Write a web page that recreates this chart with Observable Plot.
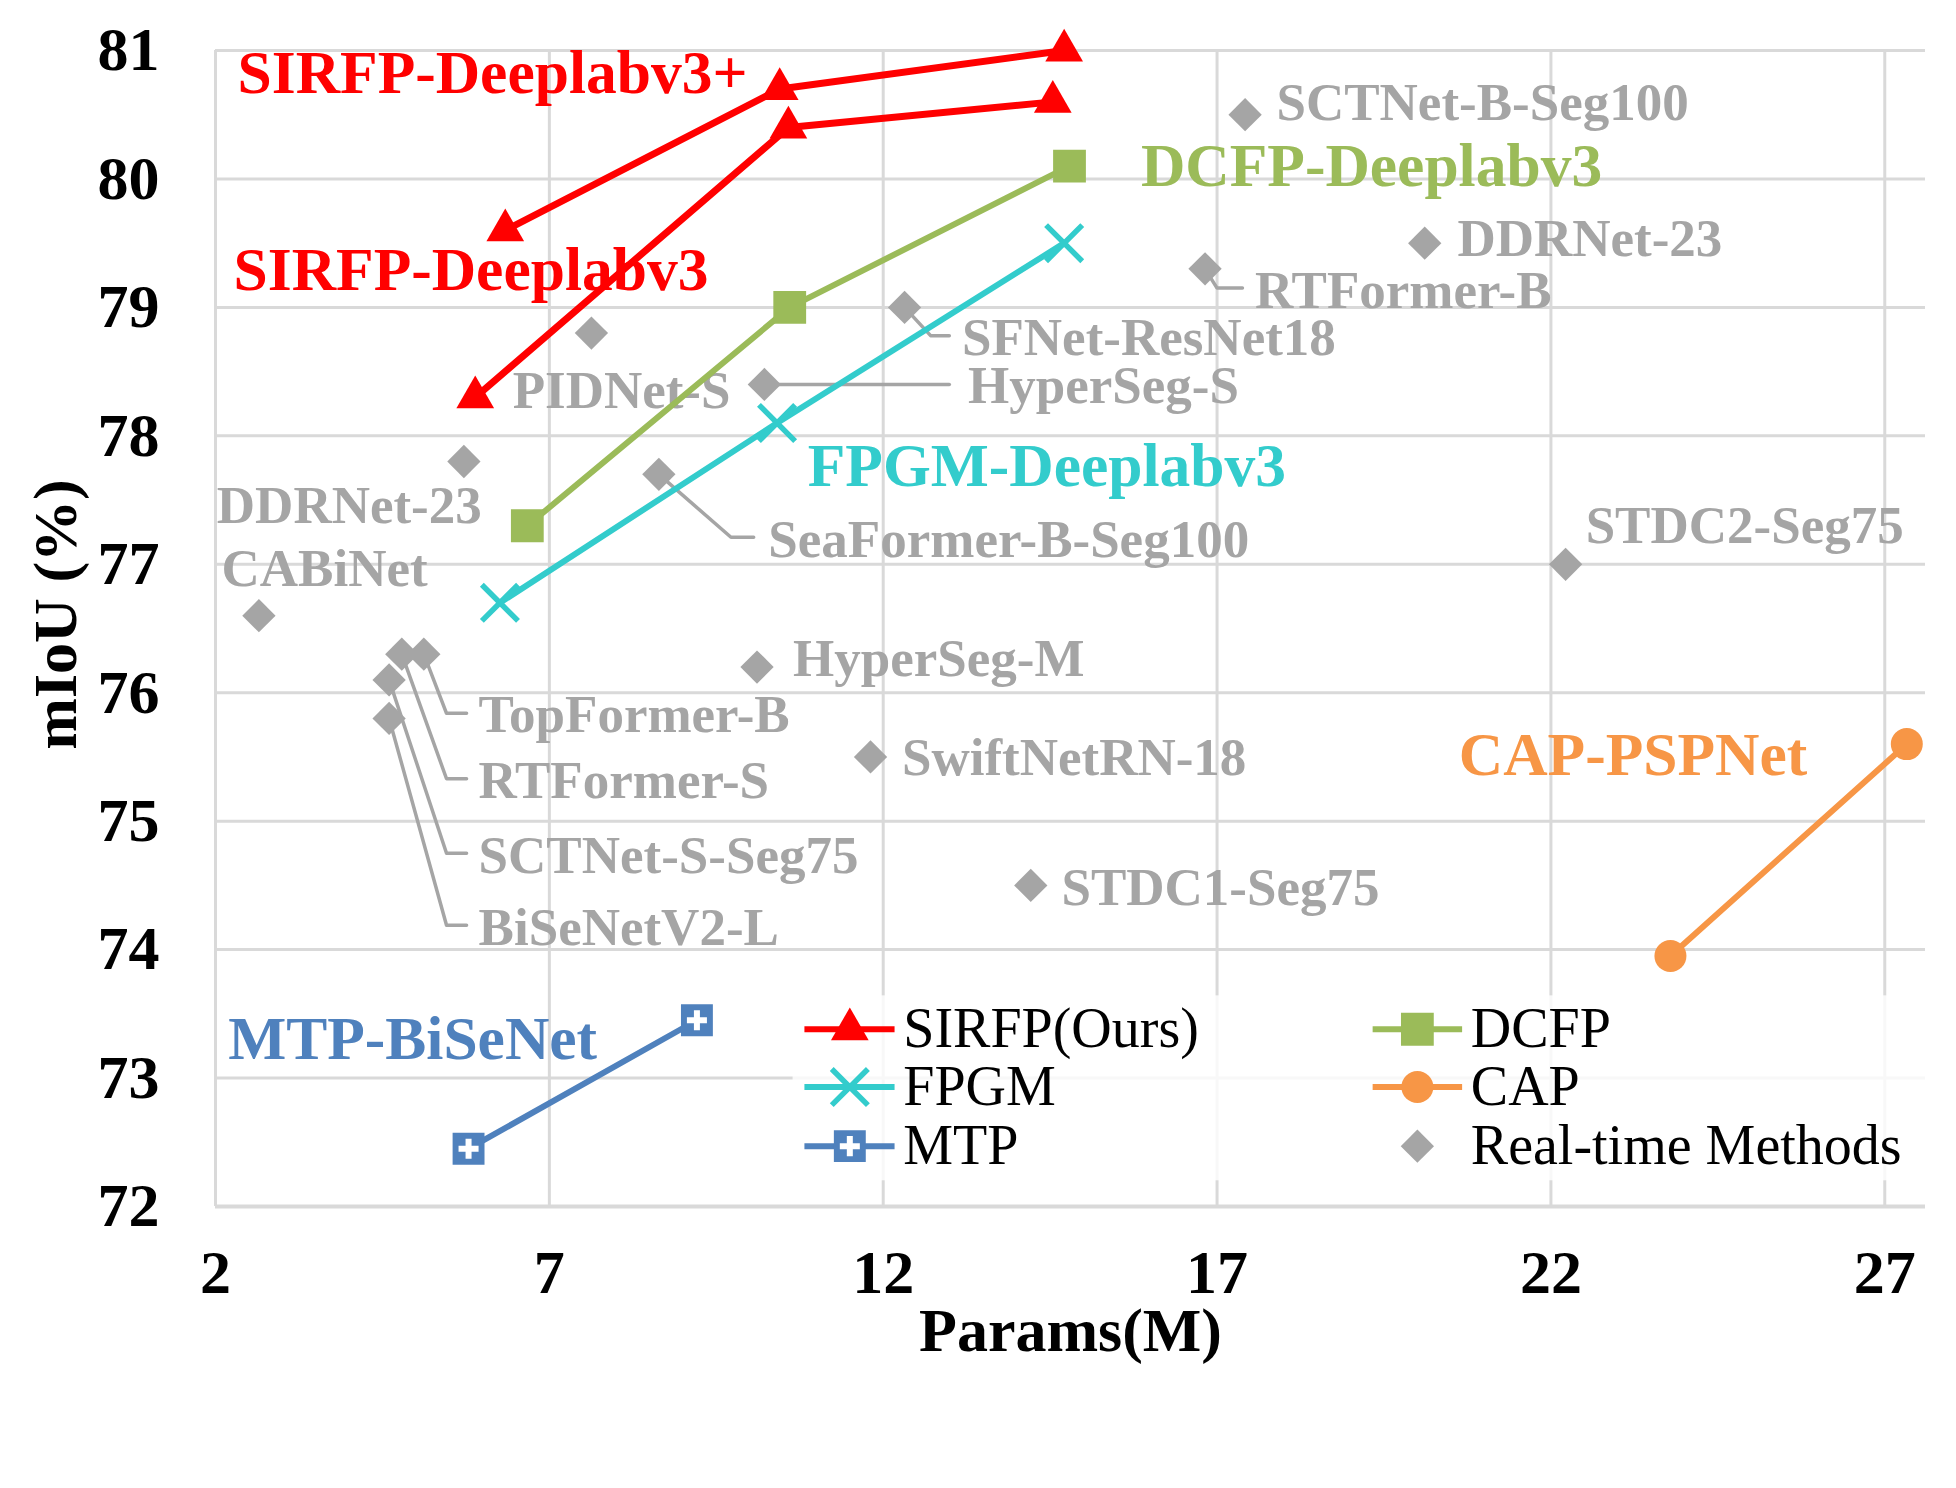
<!DOCTYPE html>
<html>
<head>
<meta charset="utf-8">
<script src="https://cdn.jsdelivr.net/npm/d3@7"></script>
<script src="https://cdn.jsdelivr.net/npm/@observablehq/plot@0.6"></script>
<style>
  html, body { margin: 0; padding: 0; background: #fff; }
  #chart svg { display: block; }
</style>
</head>
<body>
<div id="chart"></div>
<script>
// ---------- data ----------
const xTicks = [2, 7, 12, 17, 22, 27];
const yTicks = [72, 73, 74, 75, 76, 77, 78, 79, 80, 81];

const seriesNames = ["SIRFP-Deeplabv3+", "SIRFP-Deeplabv3", "DCFP-Deeplabv3", "FPGM-Deeplabv3", "MTP-BiSeNet", "CAP-PSPNet"];
const sirfpPlusParams = [6.34, 10.45, 14.71];
const sirfpPlusMiou   = [79.6, 80.7, 81.0];
const sirfpParams     = [5.89, 10.58, 14.54];
const sirfpMiou       = [78.3, 80.4, 80.6];
const dcfpParams      = [6.67, 10.6, 14.79];
const dcfpMiou        = [77.3, 79.0, 80.1];
const fpgmParams      = [6.26, 10.41, 14.71];
const fpgmMiou        = [76.7, 78.1, 79.5];
const mtpParams       = [5.79, 9.21];
const mtpMiou         = [72.45, 73.45];
const capParams       = [23.79, 27.33];
const capMiou         = [73.95, 75.6];

const rtNames  = ["SCTNet-B-Seg100", "DDRNet-23", "RTFormer-B", "SFNet-ResNet18", "HyperSeg-S", "PIDNet-S", "DDRNet-23", "SeaFormer-B-Seg100", "CABiNet", "STDC2-Seg75", "HyperSeg-M", "TopFormer-B", "RTFormer-S", "SCTNet-S-Seg75", "BiSeNetV2-L", "SwiftNetRN-18", "STDC1-Seg75"];
const rtParams = [17.42, 20.11, 16.82, 12.32, 10.22, 7.63, 5.72, 8.64, 2.65, 22.22, 10.11, 5.12, 4.79, 4.6, 4.6, 11.81, 14.21];
const rtMiou   = [80.5, 79.5, 79.3, 79.0, 78.4, 78.8, 77.8, 77.7, 76.6, 77.0, 76.2, 76.3, 76.3, 76.1, 75.8, 75.5, 74.5];

const legendNames = ["SIRFP(Ours)", "FPGM", "MTP", "DCFP", "CAP", "Real-time Methods"];

// ---------- layout (annotation placement in data units) ----------
const rtLabelPos = [
  [17.89, 80.59], [20.6, 79.53], [17.57, 79.13], [13.18, 78.76], [13.27, 78.39],
  [6.45, 78.35], [2.02, 77.45], [10.28, 77.19], [2.09, 76.96], [22.52, 77.3],
  [10.65, 76.26], [5.94, 75.83], [5.94, 75.31], [5.94, 74.73], [5.94, 74.17],
  [12.28, 75.49], [14.67, 74.48]
];
const rtLeaders = {
  2:  [[17.0, 79.15], [17.38, 79.15]],
  3:  [[12.71, 78.78], [12.99, 78.78]],
  4:  [[12.99, 78.4]],
  7:  [[9.72, 77.21], [10.06, 77.21]],
  11: [[5.46, 75.84], [5.76, 75.84]],
  12: [[5.46, 75.33], [5.76, 75.33]],
  13: [[5.46, 74.75], [5.76, 74.75]],
  14: [[5.46, 74.19], [5.76, 74.19]]
};
const seriesLabelPos = [[2.33, 80.82], [2.27, 79.29], [15.86, 80.1], [10.87, 77.76], [2.19, 73.3], [20.62, 75.51]];
const legendRows = [73.38, 72.93, 72.47];
const legendCols = [{l1: 10.82, l2: 12.17, s: 11.5, t: 12.3}, {l1: 19.33, l2: 20.67, s: 20.0, t: 20.8}];
const legendBox = {x1: 10.65, x2: 27.61, y1: 72.2, y2: 73.64};

// ---------- styles ----------
const RED = "#FF0000", GREEN = "#9BBB59", CYAN = "#33CCCC", BLUE = "#4F81BD", ORANGE = "#F79646", GRAY = "#A5A5A5", GRID = "#D9D9D9";
const seriesColors = [RED, RED, GREEN, CYAN, BLUE, ORANGE];

// ---------- derived tables ----------
const zip = (xs, ys) => xs.map((x, i) => ({x, y: ys[i]}));
const sirfpPlus = zip(sirfpPlusParams, sirfpPlusMiou);
const sirfp = zip(sirfpParams, sirfpMiou);
const dcfp = zip(dcfpParams, dcfpMiou);
const fpgm = zip(fpgmParams, fpgmMiou);
const mtp = zip(mtpParams, mtpMiou);
const cap = zip(capParams, capMiou);
const rt = rtNames.map((n, i) => ({name: n, x: rtParams[i], y: rtMiou[i], lx: rtLabelPos[i][0], ly: rtLabelPos[i][1]}));
const leaderPts = [];
for (const k of Object.keys(rtLeaders)) {
  const i = +k;
  leaderPts.push({g: i, x: rtParams[i], y: rtMiou[i]});
  for (const [x, y] of rtLeaders[k]) leaderPts.push({g: i, x, y});
}
const seriesLabels = seriesNames.map((n, i) => ({name: n, x: seriesLabelPos[i][0], y: seriesLabelPos[i][1], c: seriesColors[i]}));

const legendItems = legendNames.map((n, i) => {
  const col = legendCols[Math.floor(i / 3)];
  return {name: n, y: legendRows[i % 3], ...col, idx: i};
});
const legendColors = [RED, CYAN, BLUE, GREEN, ORANGE, GRAY];
const legLines = legendItems.filter(d => d.idx !== 5).map(d => ({...d, c: legendColors[d.idx]}));

const TRI = 14, SQ = 18.5, MTPR = 18, PLUSR = 6.5, CIR = 16, XR = 16.5, DIA = 15;

const chart = Plot.plot({
  width: 1956,
  height: 1488,
  marginLeft: 215,
  marginRight: 31,
  marginTop: 50,
  marginBottom: 282,
  x: {domain: [2, 27.61]},
  y: {domain: [72, 81]},
  style: {fontFamily: "'Liberation Serif', 'Times New Roman', serif", background: "#fff", color: "#000"},
  marks: [
    Plot.gridY({ticks: yTicks, stroke: GRID, strokeOpacity: 1, strokeWidth: 3}),
    Plot.gridX({ticks: xTicks, stroke: GRID, strokeOpacity: 1, strokeWidth: 3}),
    Plot.ruleY([72], {stroke: GRID, strokeWidth: 4}),
    Plot.axisY({ticks: yTicks, tickSize: 0, tickPadding: 56, fontSize: 62, fontWeight: "bold", label: null}),
    Plot.axisX({ticks: xTicks, tickSize: 0, tickPadding: 42, fontSize: 62, fontWeight: "bold", label: null}),
    Plot.text(["mIoU (%)"], {frameAnchor: "left", rotate: -90, dx: -159, dy: -14, fontSize: 62, fontWeight: "bold", textAnchor: "middle", lineAnchor: "middle"}),
    Plot.text(["Params(M)"], {frameAnchor: "bottom", dy: 125, fontSize: 62, fontWeight: "bold", textAnchor: "middle", lineAnchor: "middle"}),

    // legend background
    Plot.rect([legendBox], {x1: "x1", x2: "x2", y1: "y1", y2: "y2", fill: "#fff", fillOpacity: 0.8}),

    // leader lines
    Plot.line(leaderPts, {x: "x", y: "y", z: "g", stroke: GRAY, strokeWidth: 3.5}),
    // real-time methods
    Plot.dot(rt, {x: "x", y: "y", symbol: "diamond2", r: DIA, fill: GRAY, stroke: "none"}),
    Plot.text(rt, {x: "lx", y: "ly", text: "name", fill: GRAY, fontSize: 53, fontWeight: "bold", textAnchor: "start", lineAnchor: "middle"}),

    // series lines
    Plot.line(cap, {x: "x", y: "y", stroke: ORANGE, strokeWidth: 6}),
    Plot.dot(cap, {x: "x", y: "y", r: CIR, fill: ORANGE, stroke: "none"}),
    Plot.line(mtp, {x: "x", y: "y", stroke: BLUE, strokeWidth: 6}),
    Plot.dot(mtp, {x: "x", y: "y", symbol: "square", r: MTPR, fill: BLUE, stroke: "none"}),
    Plot.dot(mtp, {x: "x", y: "y", symbol: "plus", r: PLUSR, fill: "none", stroke: "#fff", strokeWidth: 6}),
    Plot.line(fpgm, {x: "x", y: "y", stroke: CYAN, strokeWidth: 6}),
    Plot.dot(fpgm, {x: "x", y: "y", symbol: "times", r: XR, fill: "none", stroke: CYAN, strokeWidth: 5.5}),
    Plot.line(dcfp, {x: "x", y: "y", stroke: GREEN, strokeWidth: 6}),
    Plot.dot(dcfp, {x: "x", y: "y", symbol: "square", r: SQ, fill: GREEN, stroke: "none"}),
    Plot.line(sirfp, {x: "x", y: "y", stroke: RED, strokeWidth: 7}),
    Plot.dot(sirfp, {x: "x", y: "y", symbol: "triangle", r: TRI, fill: RED, stroke: "none"}),
    Plot.line(sirfpPlus, {x: "x", y: "y", stroke: RED, strokeWidth: 7}),
    Plot.dot(sirfpPlus, {x: "x", y: "y", symbol: "triangle", r: TRI, fill: RED, stroke: "none"}),

    // series labels
    Plot.text(seriesLabels, {x: "x", y: "y", text: "name", fill: d => d.c, fontSize: 61.5, fontWeight: "bold", textAnchor: "start", lineAnchor: "middle"}),

    // legend
    Plot.link(legLines, {x1: "l1", x2: "l2", y1: "y", y2: "y", stroke: d => d.c, strokeWidth: 6}),
    Plot.dot(legendItems.filter(d => d.idx === 0), {x: "s", y: "y", symbol: "triangle", r: TRI, fill: RED, stroke: "none"}),
    Plot.dot(legendItems.filter(d => d.idx === 1), {x: "s", y: "y", symbol: "times", r: XR, fill: "none", stroke: CYAN, strokeWidth: 5.5}),
    Plot.dot(legendItems.filter(d => d.idx === 2), {x: "s", y: "y", symbol: "square", r: MTPR, fill: BLUE, stroke: "none"}),
    Plot.dot(legendItems.filter(d => d.idx === 2), {x: "s", y: "y", symbol: "plus", r: PLUSR, fill: "none", stroke: "#fff", strokeWidth: 6}),
    Plot.dot(legendItems.filter(d => d.idx === 3), {x: "s", y: "y", symbol: "square", r: SQ, fill: GREEN, stroke: "none"}),
    Plot.dot(legendItems.filter(d => d.idx === 4), {x: "s", y: "y", r: CIR, fill: ORANGE, stroke: "none"}),
    Plot.dot(legendItems.filter(d => d.idx === 5), {x: "s", y: "y", symbol: "diamond2", r: DIA, fill: GRAY, stroke: "none"}),
    Plot.text(legendItems, {x: "t", y: "y", text: "name", fill: "#000", fontSize: 56, textAnchor: "start", lineAnchor: "middle"})
  ]
});
document.getElementById("chart").appendChild(chart);
</script>
</body>
</html>
